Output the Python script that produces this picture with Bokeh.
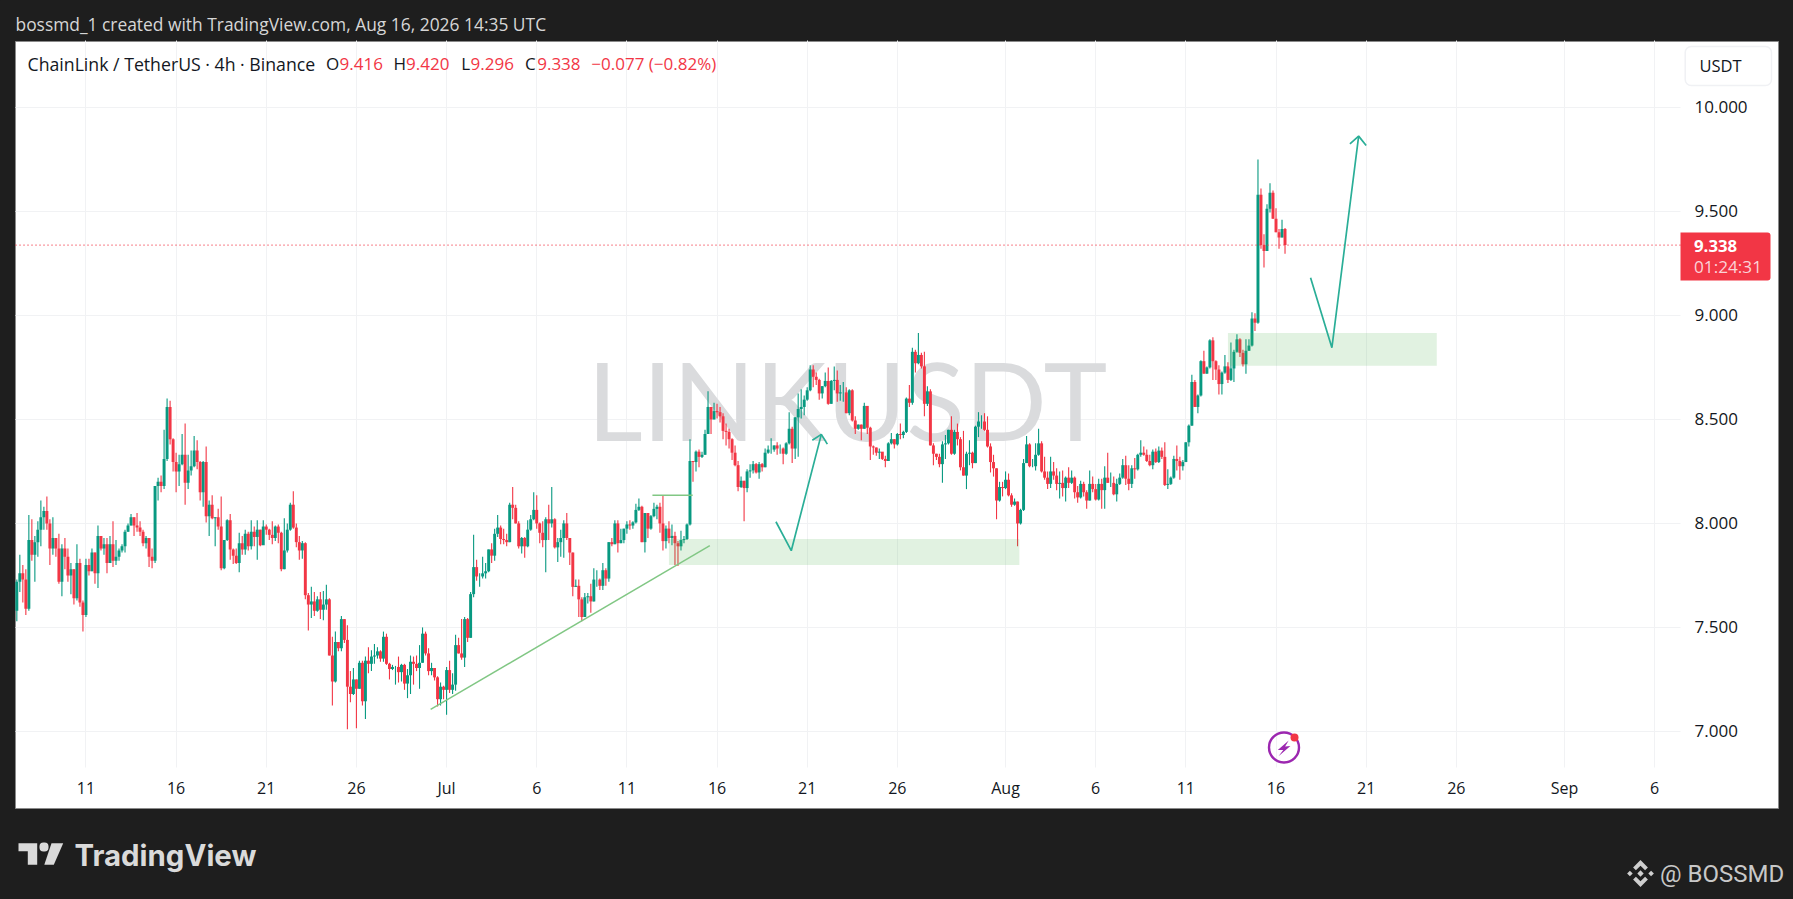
from bokeh.plotting import figure
from bokeh.embed import file_html
from bokeh.resources import INLINE
from bokeh.models import (BoxAnnotation, PolyAnnotation, Label, FixedTicker,
                          NumeralTickFormatter)

closes = [7.72,7.76,7.73,7.59,7.92,7.85,7.91,7.97,8.03,8.06,
8.0,7.88,7.93,7.88,7.72,7.88,7.84,7.75,7.78,7.64,
7.81,7.62,7.56,7.80,7.77,7.86,7.76,7.94,7.88,7.90,
7.81,7.9,7.82,7.84,7.87,7.89,7.96,7.99,8.03,7.99,
7.98,7.96,7.905,7.93,7.84,7.82,8.18,8.2,8.18,8.31,
8.56,8.405,8.295,8.25,8.285,8.33,8.195,8.255,8.275,8.35,
8.295,8.15,8.295,8.035,8.09,8.025,8.03,7.985,7.785,7.92,
8.015,7.875,7.845,7.81,7.905,7.875,7.95,7.89,7.96,7.935,
7.97,7.895,7.985,7.97,7.945,7.93,7.985,7.955,7.78,7.87,
7.97,8.09,7.98,7.91,7.87,7.905,7.655,7.61,7.625,7.58,
7.635,7.585,7.61,7.635,7.365,7.24,7.43,7.40,7.54,7.44,
7.215,7.18,7.25,7.205,7.33,7.145,7.34,7.325,7.36,7.365,
7.385,7.35,7.455,7.325,7.30,7.31,7.31,7.285,7.32,7.23,
7.27,7.335,7.325,7.305,7.33,7.47,7.375,7.29,7.305,7.26,
7.155,7.215,7.2,7.295,7.2,7.225,7.415,7.375,7.355,7.54,
7.45,7.66,7.79,7.745,7.745,
7.76,7.77,7.875,7.845,7.95,7.98,7.925,7.92,7.91,8.09,
8.075,8.0,7.89,7.93,7.89,7.97,8.02,8.065,8.0,7.955,
7.92,8.02,8.0,8.02,7.885,7.91,7.93,8.0,7.93,7.86,
7.695,7.7,7.635,7.55,7.645,7.65,7.625,7.73,7.73,7.70,
7.775,7.735,7.91,7.90,8.0,7.905,7.92,7.975,7.995,7.99,
8.005,8.065,8.08,7.91,8.05,7.975,8.035,8.07,8.08,8.0,
7.915,7.975,7.93,7.94,7.905,7.89,7.92,7.925,7.995,
8.30,8.295,8.345,8.32,8.33,8.43,8.56,8.50,8.54,8.535,8.515,8.445,8.44,8.405,8.34,8.28,
8.175,8.205,8.17,8.25,8.255,8.285,8.245,8.285,8.27,8.34,8.355,8.355,8.375,8.36,8.36,8.335,
8.385,8.455,8.36,8.51,8.55,
8.56,8.595,8.64,8.74,8.705,8.69,8.625,8.66,8.685,8.575,8.685,8.69,8.625,8.63,8.63,8.53,
8.64,8.495,8.455,8.475,8.455,8.565,8.46,8.37,8.365,8.34,8.345,8.31,8.30,8.385,8.405,8.38,8.43,
8.425,8.44,8.60,8.58,8.825,8.77,
8.81,8.755,8.575,8.635,8.375,8.335,8.32,8.285,8.38,8.385,
8.45,8.335,8.44,8.405,8.27,8.23,8.335,8.34,8.29,8.465,
8.49,8.49,8.45,8.37,8.295,8.265,8.11,8.175,8.17,8.21,
8.135,8.09,8.105,8.0,8.065,8.29,8.38,8.275,8.275,8.33,
8.385,8.25,8.22,8.19,8.25,8.23,8.19,8.195,8.17,8.22,
8.195,8.22,8.15,8.125,8.19,8.15,8.11,8.19,8.165,8.115,
8.19,8.16,8.22,8.195,8.195,8.14,8.19,8.22,8.28,8.215,
8.19,8.265,8.26,8.33,8.34,8.33,8.30,8.28,8.345,8.295,
8.35,8.32,8.185,8.19,8.22,8.31,8.30,8.275,8.295,8.39,
8.47,8.68,8.56,8.615,8.78,8.72,8.75,8.88,8.78,8.74,
8.67,8.725,8.755,8.69,8.745,8.825,8.885,8.82,8.765,8.83,
8.855,8.985,8.965,9.58,9.338,9.31,9.513,9.59,9.465,9.40,9.375,9.416,9.338]

highs = [7.73,7.85,7.80,7.78,8.04,8.02,7.94,8.01,8.11,8.08,
8.13,8.02,8.03,7.93,7.95,7.9,7.93,7.88,7.81,7.78,
7.9,7.83,7.63,7.83,7.83,7.88,7.86,7.99,7.94,7.93,
7.93,7.94,8.01,7.92,7.88,7.9,7.97,8.0,8.045,8.03,
8.05,8.01,7.97,7.94,7.93,7.88,8.18,8.22,8.23,8.45,
8.60,8.59,8.41,8.34,8.33,8.43,8.48,8.33,8.35,8.42,
8.40,8.30,8.30,8.37,8.11,8.135,8.03,8.07,8.13,7.92,
8.02,8.045,7.88,7.88,7.955,7.94,7.97,7.96,8.015,7.985,
8.015,7.97,8.015,7.995,7.975,8.01,7.99,7.995,7.96,8.025,
8.0,8.1,8.155,8.0,7.94,7.915,7.91,7.665,7.695,7.67,
7.65,7.67,7.675,7.705,7.64,7.455,7.48,7.43,7.555,7.54,
7.51,7.29,7.305,7.25,7.34,7.34,7.36,7.405,7.39,7.42,
7.405,7.39,7.48,7.47,7.33,7.32,7.315,7.36,7.325,7.325,
7.30,7.365,7.36,7.365,7.415,7.50,7.48,7.40,7.33,7.305,
7.265,7.235,7.22,7.31,7.34,7.28,7.465,7.45,7.54,7.55,
7.545,7.67,7.945,7.825,7.76,
7.84,7.81,7.875,7.905,7.975,8.04,7.99,7.975,7.95,8.10,
8.175,8.09,8.01,7.935,7.935,8.015,8.04,8.15,8.135,8.005,
8.01,8.03,8.09,8.175,8.025,7.93,7.97,8.015,8.05,7.93,
7.86,7.73,7.73,7.645,7.665,7.665,7.71,7.785,7.775,7.735,
7.81,7.785,7.91,7.93,8.015,8.015,7.975,7.975,8.01,8.015,
8.01,8.095,8.12,8.085,8.05,8.05,8.04,8.10,8.09,8.10,
8.135,7.99,8.01,7.995,7.96,7.915,7.965,7.94,8.0,
8.405,8.30,8.35,8.355,8.345,8.45,8.635,8.56,8.58,8.575,8.56,8.53,8.48,8.455,8.41,8.375,
8.30,8.225,8.205,8.26,8.285,8.30,8.29,8.295,8.29,8.36,8.375,8.41,8.375,8.39,8.38,8.365,
8.39,8.535,8.465,8.51,8.625,
8.645,8.615,8.655,8.76,8.76,8.725,8.695,8.66,8.725,8.75,8.69,8.755,8.735,8.665,8.68,8.655,
8.645,8.645,8.515,8.475,8.475,8.58,8.565,8.465,8.375,8.365,8.36,8.34,8.325,8.39,8.435,8.405,8.435,
8.48,8.445,8.605,8.665,8.845,8.835,
8.915,8.82,8.825,8.66,8.645,8.385,8.335,8.335,8.395,8.425,
8.45,8.515,8.45,8.48,8.415,8.445,8.345,8.40,8.345,8.47,
8.535,8.52,8.53,8.515,8.385,8.33,8.265,8.20,8.20,8.25,
8.24,8.145,8.12,8.105,8.07,8.31,8.42,8.385,8.31,8.385,
8.455,8.395,8.32,8.25,8.32,8.295,8.265,8.25,8.255,8.225,
8.27,8.255,8.225,8.18,8.205,8.20,8.16,8.255,8.225,8.19,
8.215,8.215,8.275,8.34,8.245,8.225,8.215,8.24,8.31,8.325,
8.28,8.28,8.315,8.335,8.40,8.37,8.355,8.33,8.355,8.36,
8.37,8.365,8.39,8.26,8.225,8.325,8.375,8.32,8.305,8.39,
8.475,8.715,8.69,8.62,8.785,8.83,8.755,8.885,8.895,8.785,
8.76,8.73,8.81,8.775,8.87,8.835,8.91,8.89,8.835,8.885,
8.885,9.015,9.01,9.75,9.61,9.39,9.535,9.635,9.60,9.515,9.415,9.46,9.42]

lows = [7.53,7.67,7.62,7.56,7.58,7.82,7.72,7.84,7.89,7.97,
7.97,7.8,7.85,7.84,7.71,7.65,7.78,7.72,7.66,7.61,
7.63,7.6,7.48,7.55,7.75,7.77,7.71,7.69,7.87,7.85,
7.76,7.81,7.79,7.8,7.82,7.86,7.86,7.96,7.99,7.94,
7.96,7.94,7.89,7.88,7.79,7.785,7.81,8.11,8.15,8.165,
8.30,8.38,8.25,8.15,8.18,8.28,8.09,8.165,8.23,8.27,
8.26,8.11,8.08,8.005,7.94,8.02,7.89,7.97,7.775,7.78,
7.915,7.825,7.805,7.805,7.765,7.85,7.85,7.87,7.875,7.89,
7.825,7.89,7.9,7.945,7.92,7.90,7.915,7.905,7.77,7.78,
7.86,7.965,7.975,7.885,7.825,7.83,7.635,7.485,7.545,7.555,
7.575,7.54,7.535,7.585,7.365,7.125,7.235,7.385,7.385,7.425,
7.01,7.14,7.175,7.015,7.205,7.125,7.06,7.28,7.29,7.325,
7.35,7.335,7.335,7.32,7.25,7.295,7.225,7.235,7.24,7.2,
7.16,7.18,7.225,7.29,7.205,7.33,7.365,7.27,7.27,7.245,
7.12,7.125,7.155,7.08,7.185,7.18,7.195,7.375,7.345,7.31,
7.43,7.45,7.645,7.725,7.695,
7.735,7.735,7.765,7.81,7.82,7.935,7.90,7.90,7.89,7.91,
8.02,8.0,7.88,7.855,7.835,7.885,7.965,8.015,7.975,7.905,
7.885,7.765,7.92,7.98,7.88,7.815,7.84,7.835,7.92,7.80,
7.65,7.695,7.55,7.53,7.55,7.615,7.57,7.625,7.695,7.68,
7.68,7.70,7.72,7.89,7.90,7.86,7.905,7.905,7.95,7.97,
7.975,8.0,8.06,7.91,7.86,7.93,7.97,8.03,8.02,7.955,
7.87,7.88,7.905,7.895,7.80,7.795,7.87,7.905,7.92,
7.99,8.2,8.25,8.27,8.315,8.33,8.43,8.43,8.50,8.505,8.485,8.405,8.375,8.36,8.305,8.275,
8.155,8.17,8.01,8.15,8.22,8.24,8.24,8.215,8.25,8.27,8.335,8.335,8.345,8.33,8.335,8.285,
8.33,8.38,8.29,8.31,8.32,
8.505,8.52,8.59,8.635,8.655,8.665,8.595,8.60,8.655,8.57,8.575,8.64,8.585,8.59,8.585,8.53,
8.52,8.49,8.43,8.45,8.40,8.455,8.43,8.305,8.33,8.325,8.31,8.305,8.27,8.30,8.38,8.36,8.375,
8.405,8.41,8.435,8.56,8.57,8.725,
8.765,8.745,8.515,8.565,8.375,8.28,8.305,8.27,8.195,8.31,
8.38,8.33,8.33,8.375,8.255,8.23,8.165,8.28,8.265,8.29,
8.415,8.455,8.445,8.365,8.245,8.225,8.02,8.105,8.13,8.165,
8.13,8.08,8.085,7.89,7.995,8.06,8.29,8.27,8.27,8.255,
8.325,8.245,8.21,8.165,8.17,8.21,8.16,8.12,8.13,8.105,
8.17,8.19,8.12,8.10,8.12,8.13,8.07,8.11,8.15,8.11,
8.11,8.07,8.07,8.195,8.175,8.135,8.105,8.185,8.215,8.185,
8.16,8.17,8.215,8.255,8.32,8.325,8.295,8.275,8.26,8.29,
8.29,8.31,8.18,8.165,8.185,8.215,8.255,8.21,8.255,8.295,
8.37,8.47,8.56,8.53,8.61,8.72,8.72,8.745,8.69,8.69,
8.62,8.62,8.72,8.675,8.685,8.68,8.82,8.80,8.755,8.72,
8.83,8.85,8.925,8.96,9.32,9.23,9.31,9.495,9.465,9.40,9.32,9.375,9.296]

first_open = 7.58
opens = [first_open] + closes[:-1]
last_price = 9.338

time_tick_bars = [23, 53, 83, 113, 143, 173, 203, 233, 263, 293, 329, 359, 389, 419, 449, 479, 515, 545]
time_tick_labels = ["11", "16", "21", "26", "Jul", "6", "11", "16", "21", "26", "Aug", "6", "11", "16", "21", "26", "Sep", "6"]
price_ticks = [7.0, 7.5, 8.0, 8.5, 9.0, 9.5, 10.0]

zone_left = [217, 403]
zone_right = [333.6, 472.5]
zone_top = [7.925, 8.915]
zone_bottom = [7.80, 8.758]
trend_x = [137.7, 230.6]
trend_y = [7.106, 7.893]
level_x = [211.5, 224.9]
level_y = [8.135, 8.135]
arrow1_x = [252.6, 257.7, 267.7]
arrow1_y = [8.008, 7.869, 8.428]
head1_x = [264.7, 267.7, 269.7]
head1_y = [8.40, 8.428, 8.381]
arrow2_x = [430.5, 437.6, 446.5]
arrow2_y = [9.181, 8.845, 9.862]
head2_x = [443.6, 446.5, 449.0]
head2_y = [9.825, 9.862, 9.817]

UP = "#089981"
DOWN = "#F23645"
DARK = "#1E1E1E"
INK = "#131722"
FONT = "Open Sans"

W, H = 1793, 899
PANE_RIGHT_BAR = 553.6     # bar position of the price scale's left edge
PANE_FLOOR_PRICE = 6.827   # price at the time scale's top edge
p = figure(width=W, height=H, output_backend="svg", toolbar_location=None,
           x_range=(-5.434, 591.2), y_range=(6.192, 10.514),
           x_axis_location="below", y_axis_location="right",
           min_border_left=0, min_border_top=0, min_border_right=0, min_border_bottom=0,
           background_fill_color=DARK, border_fill_color=DARK, outline_line_color=None)

def box(l, t, r, b, level="annotation", **kw):
    kw.setdefault("fill_color", "white")
    kw.setdefault("fill_alpha", 1)
    kw.setdefault("line_alpha", 0)
    p.add_layout(BoxAnnotation(left=l, right=r, top=t, bottom=b, left_units="canvas", right_units="canvas",
                               top_units="canvas", bottom_units="canvas", level=level, **kw))

def poly(pts, color):
    p.add_layout(PolyAnnotation(xs=[a for a, _ in pts], ys=[b for _, b in pts], xs_units="canvas", ys_units="canvas",
                                fill_color=color, fill_alpha=1, line_alpha=0, level="annotation"))

def text(x, y, s, size, color=INK, font=FONT, style="normal", align="left"):
    p.add_layout(Label(x=x, y=y, text=s, x_units="canvas", y_units="canvas", text_font=font,
                       text_font_size=f"{size}px", text_color=color, text_font_style=style,
                       text_align=align, text_baseline="middle", level="annotation"))

# white chart pane
box(15, 41, 1778, 808, level="image", line_color="#8A8A8A", line_alpha=1, line_width=1)

# axes, held at the pane's price scale and time scale edges
p.xaxis.fixed_location = PANE_FLOOR_PRICE
p.yaxis.fixed_location = PANE_RIGHT_BAR
p.xaxis.ticker = FixedTicker(ticks=time_tick_bars)
p.xaxis.major_label_overrides = dict(zip(time_tick_bars, time_tick_labels))
p.xaxis.axis_line_color = None
p.xaxis.major_tick_line_color = None
p.xaxis.minor_tick_line_color = None
p.xaxis.major_label_text_font = FONT
p.xaxis.major_label_text_font_size = "16px"
p.xaxis.major_label_text_color = INK
p.xaxis.major_label_standoff = 4
p.yaxis.ticker = FixedTicker(ticks=price_ticks)
p.yaxis.formatter = NumeralTickFormatter(format="0.000")
p.yaxis.axis_line_color = None
p.yaxis.major_tick_line_color = None
p.yaxis.minor_tick_line_color = None
p.yaxis.major_label_text_font = FONT
p.yaxis.major_label_text_font_size = "17px"
p.yaxis.major_label_text_color = INK
p.yaxis.major_label_standoff = 8
p.xgrid.ticker = FixedTicker(ticks=time_tick_bars)
p.ygrid.ticker = FixedTicker(ticks=price_ticks)
p.xgrid.grid_line_color = "#F1F2F4"
p.ygrid.grid_line_color = "#F1F2F4"
p.xgrid.cross_bounds = (PANE_FLOOR_PRICE, 10.32)
p.ygrid.cross_bounds = (-0.44, PANE_RIGHT_BAR)

# watermark
p.add_layout(Label(x=276.3, y=8.60, text="LINKUSDT", text_font="Lato", text_font_size="108px",
                   text_color="#DADBDD", text_align="center", text_baseline="middle", level="underlay"))

# candles
idx = list(range(len(closes)))
up_i = [i for i in idx if closes[i] >= opens[i]]
dn_i = [i for i in idx if closes[i] < opens[i]]
for ids, col in ((up_i, UP), (dn_i, DOWN)):
    p.segment(x0=ids, x1=ids, y0=[lows[i] for i in ids], y1=[highs[i] for i in ids], line_color=col, line_width=1.1)
    p.vbar(x=ids, width=0.98, top=[max(opens[i], closes[i]) for i in ids], bottom=[min(opens[i], closes[i]) for i in ids],
           fill_color=col, line_color=None)

# current price line
p.line([-0.44, PANE_RIGHT_BAR], [last_price, last_price], line_color=DOWN, line_dash="1 3", line_width=1.2)

# drawings
p.quad(left=zone_left, right=zone_right, top=zone_top, bottom=zone_bottom, fill_color="#4CAF50", fill_alpha=0.17, line_color=None)
p.line(trend_x, trend_y, line_color="#81C784", line_width=1.5)
p.line(level_x, level_y, line_color="#81C784", line_width=1.5)
p.line(arrow1_x, arrow1_y, line_color="#2AAE97", line_width=1.7)
p.line(head1_x, head1_y, line_color="#2AAE97", line_width=1.7)
p.line(arrow2_x, arrow2_y, line_color="#2AAE97", line_width=1.7)
p.line(head2_x, head2_y, line_color="#2AAE97", line_width=1.7)

# header
text(15, 23, "bossmd_1 created with TradingView.com, Aug 16, 2026 14:35 UTC", 17.4, "#D6D6D6")
text(27, 63, "ChainLink / TetherUS · 4h · Binance", 17.7)
for x, s, c in [(325.5, "O", INK), (339, "9.416", DOWN), (393, "H", INK), (405.6, "9.420", DOWN),
                (460.7, "L", INK), (470, "9.296", DOWN), (524.5, "C", INK), (536.7, "9.338", DOWN),
                (590.8, "−0.077 (−0.82%)", DOWN)]:
    text(x, 63, s, 17, c)

# price scale button and last price tag
box(1684.7, 46, 1771, 85, fill_alpha=0, line_color="#F0F1F4", line_alpha=1, line_width=1.5, border_radius=6)
text(1699, 65, "USDT", 16.5)
box(1680, 232, 1770, 280, fill_color=DOWN, border_radius=(0, 3, 3, 0))
text(1693.5, 245, "9.338", 16.8, "white", style="bold")
text(1693.5, 266, "01:24:31", 17.2, "#FBD3D7")

# flash icon
box(1268.5, 732, 1298.5, 762, fill_alpha=0, line_color="#9C27B0", line_alpha=1, line_width=2.4, border_radius=15)
poly([(1288.2, 740.0), (1277.3, 749.6), (1282.8, 749.4), (1278.0, 755.8), (1289.9, 745.6), (1284.6, 745.9)], "#9C27B0")
box(1290, 733, 1298, 741, fill_color=DOWN, border_radius=4)

# TradingView mark
TV = "#DADADA"
poly([(18, 842.7), (36.7, 842.7), (36.7, 864.3), (27.3, 864.3), (27.3, 850.7), (18, 850.7)], TV)
box(39, 842, 48, 851, fill_color=TV, border_radius=4)
poly([(51, 842.7), (62.7, 842.7), (53.3, 864.3), (43.8, 864.3)], TV)
text(74, 855, "TradingView", 29.4, TV, font="Inter", style="bold")

# Binance mark and handle
BN = "#CFCFCF"
cx, cy = 1640, 873
def rel(pts): return [(cx + a, cy + b) for a, b in pts]
poly(rel([(-13.4, 0), (-10.6, -2.8), (-7.8, 0), (-10.6, 2.8)]), BN)
poly(rel([(13.4, 0), (10.6, -2.8), (7.8, 0), (10.6, 2.8)]), BN)
poly(rel([(-3.2, 0), (0, -3.2), (3.2, 0), (0, 3.2)]), BN)
poly(rel([(0, -13.4), (7.4, -6), (4.6, -3.3), (0, -7.8), (-4.6, -3.3), (-7.4, -6)]), BN)
poly(rel([(0, 13.4), (7.4, 6), (4.6, 3.3), (0, 7.8), (-4.6, 3.3), (-7.4, 6)]), BN)
text(1659.5, 873, "@ BOSSMD", 24, "#C8C8C8", font="Roboto")

html = file_html(p, INLINE)
html = html.replace("<head>", "<head><style>html,body{background:#1E1E1E;margin:0;overflow:hidden;}</style>", 1)
open("out.html", "w").write(html)
print(len(closes), len(highs), len(lows))
